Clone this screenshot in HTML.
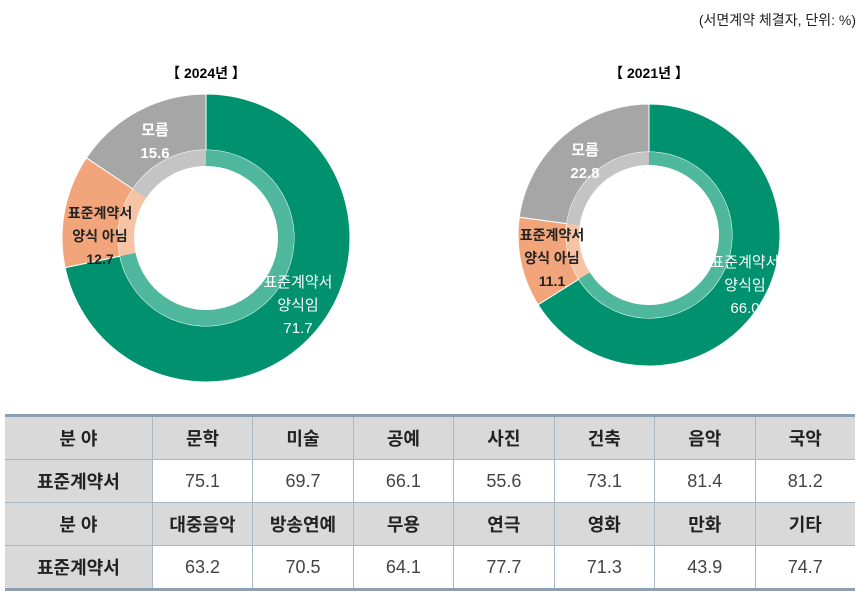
<!DOCTYPE html>
<html><head><meta charset="utf-8"><style>
body{margin:0;width:860px;height:585px;background:#fff;font-family:"Liberation Sans","Noto Sans CJK KR",sans-serif;position:relative;overflow:hidden}
.unit{position:absolute;right:4px;top:10px;font-size:14px;color:#222}
table{position:absolute;left:5px;top:414px;border-collapse:collapse;width:850px;border-top:3px solid #8da0b3;border-bottom:3px solid #8da0b3}
td{height:40px;border:1px solid #a9b8c6;text-align:center;font-size:18px;color:#333;width:100px}
td.h{background:#d9d9d9;font-weight:bold;color:#222}
td.f{width:150px;border-left:none}
td:last-child{border-right:none}
td.v{font-family:"Liberation Sans Narrow","Liberation Sans",sans-serif;color:#444}
</style></head><body>
<div class="unit">(서면계약 체결자, 단위: %)</div>
<svg id="c" width="860" height="410" style="position:absolute;left:0;top:0"></svg>
<table>
<tr><td class="h f">분 야</td><td class="h">문학</td><td class="h">미술</td><td class="h">공예</td><td class="h">사진</td><td class="h">건축</td><td class="h">음악</td><td class="h">국악</td></tr>
<tr><td class="h f">표준계약서</td><td class="v">75.1</td><td class="v">69.7</td><td class="v">66.1</td><td class="v">55.6</td><td class="v">73.1</td><td class="v">81.4</td><td class="v">81.2</td></tr>
<tr><td class="h f">분 야</td><td class="h">대중음악</td><td class="h">방송연예</td><td class="h">무용</td><td class="h">연극</td><td class="h">영화</td><td class="h">만화</td><td class="h">기타</td></tr>
<tr><td class="h f">표준계약서</td><td class="v">63.2</td><td class="v">70.5</td><td class="v">64.1</td><td class="v">77.7</td><td class="v">71.3</td><td class="v">43.9</td><td class="v">74.7</td></tr>
</table>
<script>
const categories=["표준계약서 양식임","표준계약서 양식 아님","모름"];
const values2024=[71.7,12.7,15.6];
const values2021=[66.0,11.1,22.8];
const titles=["【 2024년 】","【 2021년 】"];
const colors=["#00916e","#f2a57a","#a6a6a6"];
const light=["#4fb79c","#f6c3a5","#c4c4c4"];
const svg=document.getElementById('c');
const NS="http://www.w3.org/2000/svg";
function pt(cx,cy,r,a){return [cx+r*Math.sin(a),cy-r*Math.cos(a)];}
function arc(cx,cy,r0,r1,a0,a1){
 const l=(a1-a0)>Math.PI?1:0;
 const p=pt(cx,cy,r1,a0),q=pt(cx,cy,r1,a1),s=pt(cx,cy,r0,a1),t=pt(cx,cy,r0,a0);
 return `M${p}L${p}A${r1},${r1} 0 ${l} 1 ${q}L${s}A${r0},${r0} 0 ${l} 0 ${t}Z`;}
function text(x,y,lines,fill,weight,size){
 lines.forEach((s,i)=>{const t=document.createElementNS(NS,'text');
 
 
 t.setAttribute('x',x);t.setAttribute('y',y+i*23);t.setAttribute('text-anchor','middle');
 t.setAttribute('fill',fill);t.setAttribute('font-size',size||15);if(weight)t.setAttribute('font-weight',weight);
 t.textContent=s;svg.appendChild(t);});}
function donut(vals,cx,cy,R,rb,rh,title,labelPos){
 const tt=document.createElementNS(NS,'text');
 
 
 tt.setAttribute('x',cx);tt.setAttribute('y',78);tt.setAttribute('text-anchor','middle');tt.setAttribute('font-size',14);tt.setAttribute('font-weight','bold');tt.textContent=title;svg.appendChild(tt);
 const tot=vals.reduce((a,b)=>a+b,0);let a=0;
 vals.forEach((v,i)=>{const a1=a+v/tot*2*Math.PI;
  const p=document.createElementNS(NS,'path');
  
  
  p.setAttribute('d',arc(cx,cy,rb,R,a,a1));p.setAttribute('fill',colors[i]);p.setAttribute('stroke','#fff');p.setAttribute('stroke-width',1);svg.appendChild(p);
  const q=document.createElementNS(NS,'path');
  
  
  q.setAttribute('d',arc(cx,cy,rh,rb,a,a1));q.setAttribute('fill',light[i]);svg.appendChild(q);
  a=a1;});
 const [l0,l1,l2]=labelPos;
 text(l0[0],l0[1],["표준계약서","양식임",vals[0].toFixed(1)],"#fff",null,15);
 text(l1[0],l1[1],["표준계약서","양식 아님",vals[1].toFixed(1)],"#222","bold",14);
 text(l2[0],l2[1],["모름",vals[2].toFixed(1)],"#fff","bold",15);
}
donut(values2024,206,238,144,88,72,titles[0],[[298,287],[100,218],[155,135]]);
donut(values2021,649,235,131,83,70,titles[1],[[745,267],[552,240],[585,155]]);
</script>
</body></html>
